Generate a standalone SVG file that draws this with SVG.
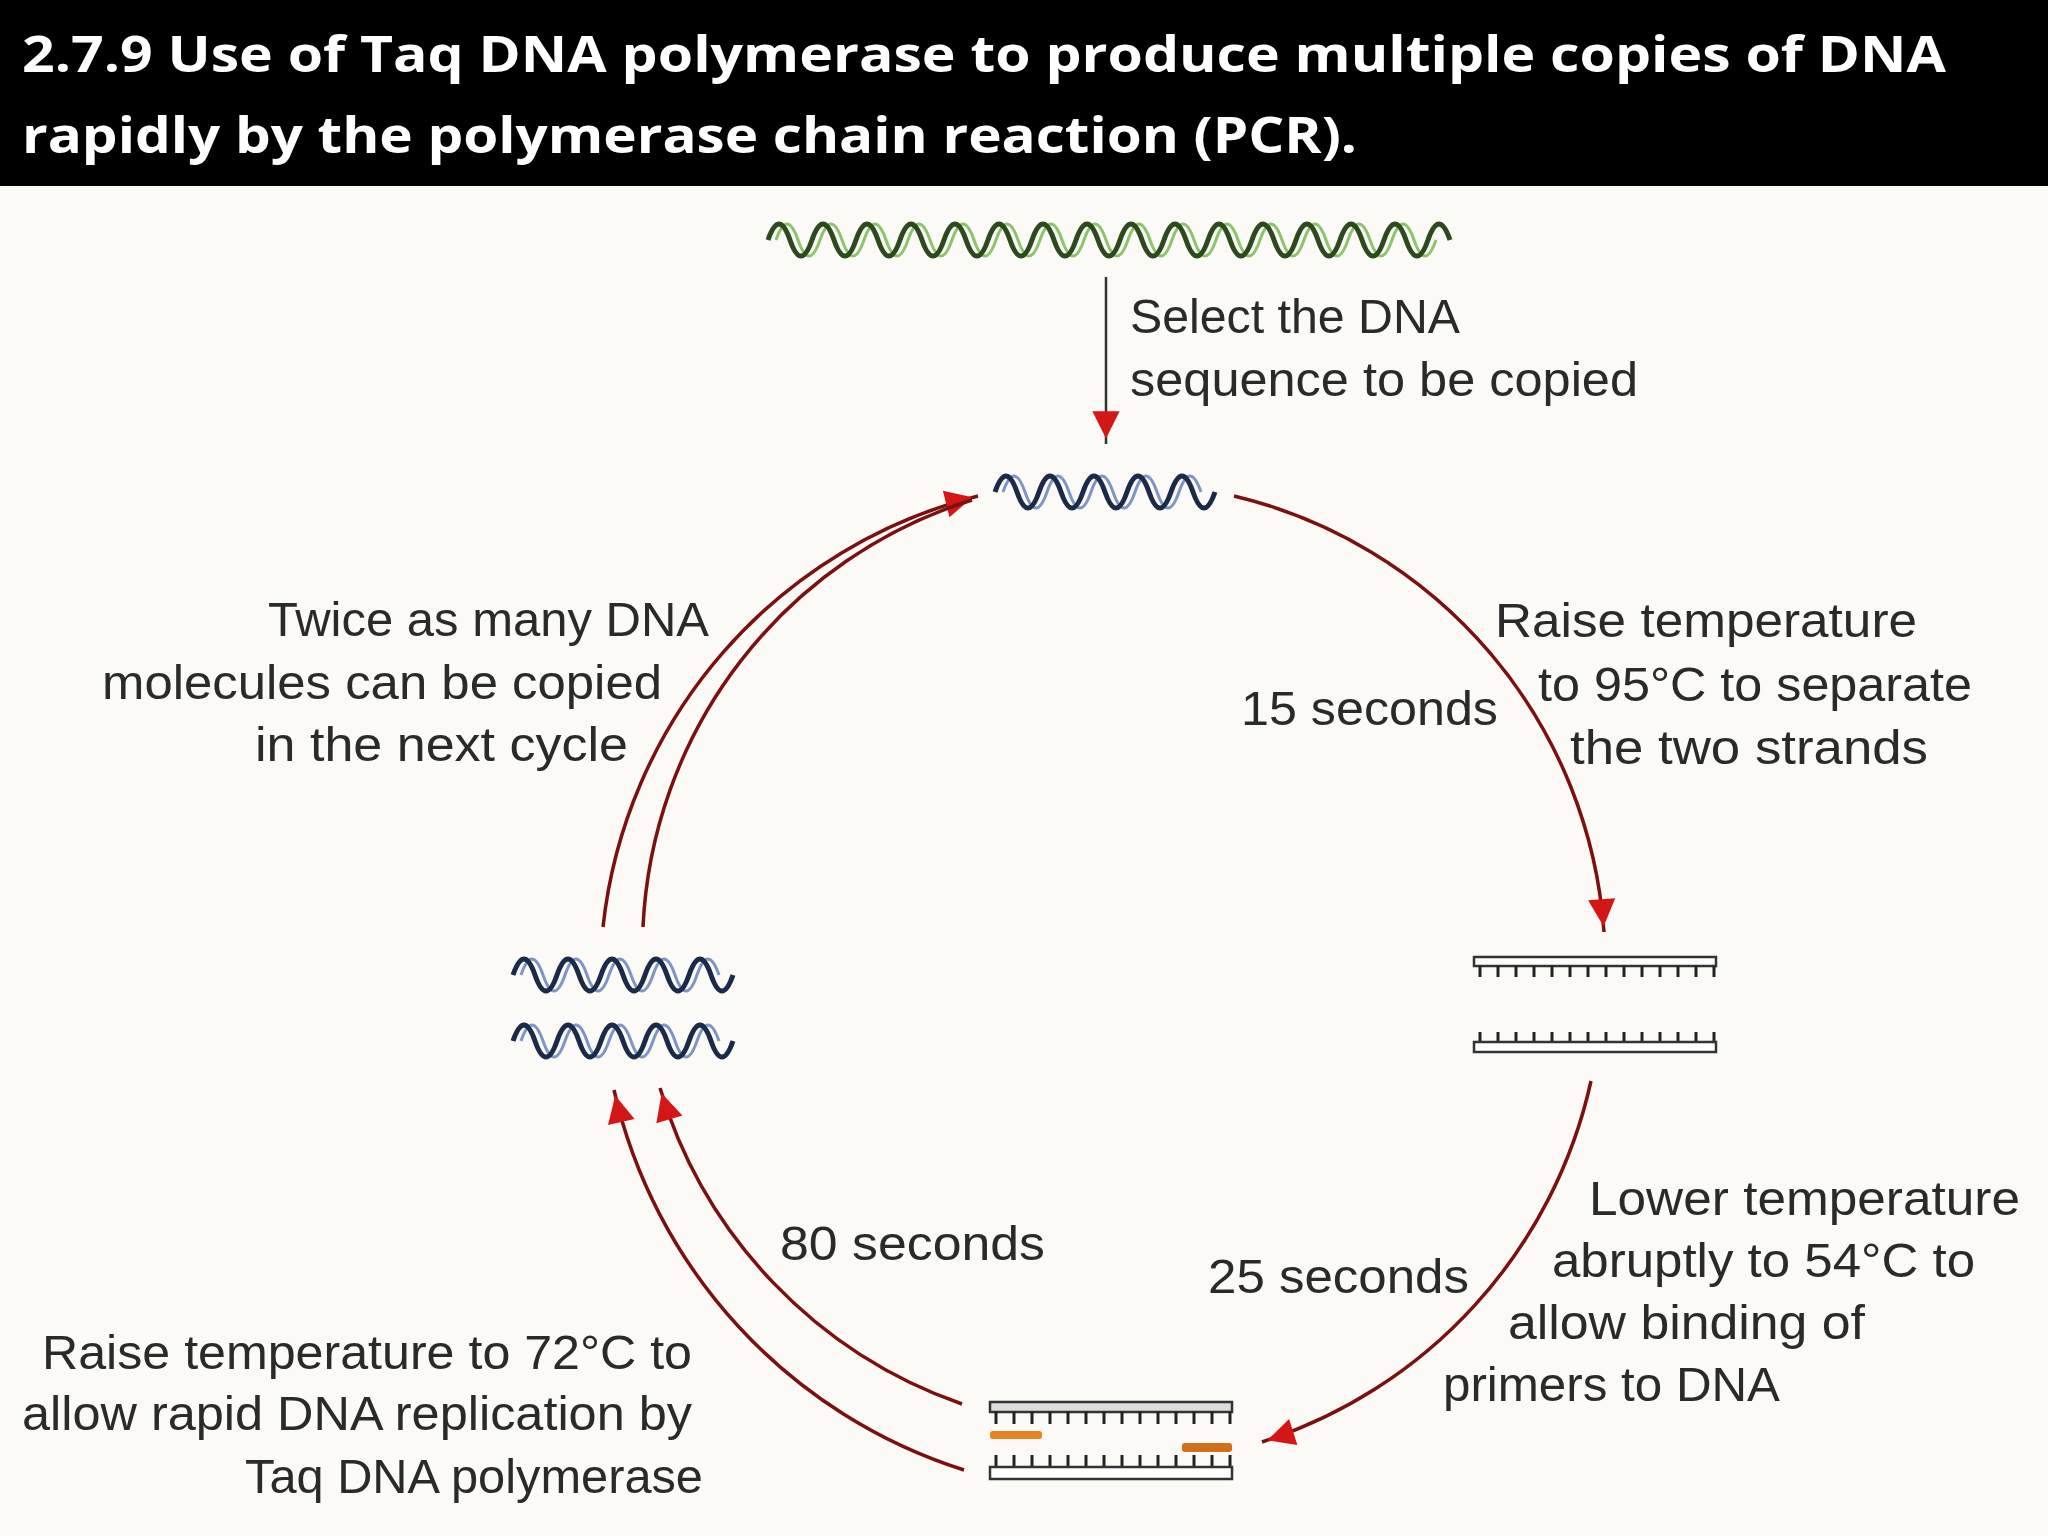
<svg xmlns="http://www.w3.org/2000/svg" width="2048" height="1536" viewBox="0 0 2048 1536">
<defs>
<style>
.t{font-family:"Open Sans","Liberation Sans",sans-serif;font-weight:bold;font-size:50px;fill:#fff}
.l{font-family:"Liberation Sans","DejaVu Sans",sans-serif;font-size:48px;fill:#2a2a2a}
.c{fill:none;stroke:#7a1010;stroke-width:3.5}
.h1{fill:none;stroke:#1c2a4a;stroke-width:5}
.h2{fill:none;stroke:#7f95c4;stroke-width:3}
.g1{fill:none;stroke:#2c4a1e;stroke-width:5}
.g2{fill:none;stroke:#8cc46a;stroke-width:3}
.bar{fill:#fff;stroke:#333;stroke-width:2.5}
.tk{stroke:#222;stroke-width:3}
</style>
<marker id="ah" viewBox="0 0 10 10" refX="9" refY="5" markerWidth="8" markerHeight="8" markerUnits="userSpaceOnUse" orient="auto" style="overflow:visible">
<path d="M0,0 L10,5 L0,10 z" fill="#d41616" transform="translate(2,5) scale(3.4) translate(-10,-5)"/>
</marker>
</defs>
<rect width="2048" height="1536" fill="#fbfaf6"/>
<rect width="2048" height="186" fill="#000"/>
<text class="t" x="22" y="72" textLength="1924" lengthAdjust="spacingAndGlyphs">2.7.9 Use of Taq DNA polymerase to produce multiple copies of DNA</text>
<text class="t" x="22" y="153" textLength="1335" lengthAdjust="spacingAndGlyphs">rapidly by the polymerase chain reaction (PCR).</text>

<g id="dna-top">
<path class="g2" d="M776 240 q11 -32 22 0 t22 0 t22 0 t22 0 t22 0 t22 0 t22 0 t22 0 t22 0 t22 0 t22 0 t22 0 t22 0 t22 0 t22 0 t22 0 t22 0 t22 0 t22 0 t22 0 t22 0 t22 0 t22 0 t22 0 t22 0 t22 0 t22 0 t22 0 t22 0 t22 0"/>
<path class="g1" d="M768 240 q11 -32 22 0 t22 0 t22 0 t22 0 t22 0 t22 0 t22 0 t22 0 t22 0 t22 0 t22 0 t22 0 t22 0 t22 0 t22 0 t22 0 t22 0 t22 0 t22 0 t22 0 t22 0 t22 0 t22 0 t22 0 t22 0 t22 0 t22 0 t22 0 t22 0 t22 0 t22 0"/>
</g>
<g id="dna-cycle-top">
<path class="h2" d="M1003 492 q11 -32 22 0 t22 0 t22 0 t22 0 t22 0 t22 0 t22 0 t22 0 t22 0"/>
<path class="h1" d="M995 492 q11 -32 22 0 t22 0 t22 0 t22 0 t22 0 t22 0 t22 0 t22 0 t22 0 t22 0"/>
</g>
<g id="dna-left">
<path class="h2" d="M521 975 q11 -32 22 0 t22 0 t22 0 t22 0 t22 0 t22 0 t22 0 t22 0 t22 0"/>
<path class="h1" d="M513 975 q11 -32 22 0 t22 0 t22 0 t22 0 t22 0 t22 0 t22 0 t22 0 t22 0 t22 0"/>
<path class="h2" d="M521 1041 q11 -32 22 0 t22 0 t22 0 t22 0 t22 0 t22 0 t22 0 t22 0 t22 0"/>
<path class="h1" d="M513 1041 q11 -32 22 0 t22 0 t22 0 t22 0 t22 0 t22 0 t22 0 t22 0 t22 0 t22 0"/>
</g>
<g id="strands-right">
<rect class="bar" x="1474" y="957" width="242" height="9"/>
<path class="tk" d="M1480 966v11M1498 966v11M1516 966v11M1534 966v11M1552 966v11M1570 966v11M1588 966v11M1606 966v11M1624 966v11M1642 966v11M1660 966v11M1678 966v11M1696 966v11M1714 966v11"/>
<path class="tk" d="M1480 1032v10M1498 1032v10M1516 1032v10M1534 1032v10M1552 1032v10M1570 1032v10M1588 1032v10M1606 1032v10M1624 1032v10M1642 1032v10M1660 1032v10M1678 1032v10M1696 1032v10M1714 1032v10"/>
<rect class="bar" x="1474" y="1042" width="242" height="10"/>
</g>
<g id="strands-bottom">
<rect class="bar" x="990" y="1402" width="242" height="10" style="fill:#ddd"/>
<path class="tk" d="M996 1412v12M1014 1412v12M1032 1412v12M1050 1412v12M1068 1412v12M1086 1412v12M1104 1412v12M1122 1412v12M1140 1412v12M1158 1412v12M1176 1412v12M1194 1412v12M1212 1412v12M1230 1412v12"/>
<rect x="990" y="1431" width="52" height="8" rx="3" fill="#e8821c"/>
<rect x="1182" y="1443" width="50" height="9" rx="3" fill="#d2701a"/>
<path class="tk" d="M996 1455v11M1014 1455v11M1032 1455v11M1050 1455v11M1068 1455v11M1086 1455v11M1104 1455v11M1122 1455v11M1140 1455v11M1158 1455v11M1176 1455v11M1194 1455v11M1212 1455v11M1230 1455v11"/>
<rect class="bar" x="990" y="1467" width="242" height="12"/>
</g>
<g id="connectors">
<path d="M1106 277 V444" stroke="#333" stroke-width="2.5" fill="none" marker-end="url(#ah)"/>
<path class="c" d="M1234 496 A483 483 0 0 1 1604 932" marker-end="url(#ah)"/>
<path class="c" d="M1591 1081 A490 490 0 0 1 1262 1442" marker-end="url(#ah)"/>
<path class="c" d="M962 1404 A480 480 0 0 1 660 1088" marker-end="url(#ah)"/>
<path class="c" d="M964 1470 A520 520 0 0 1 614 1090" marker-end="url(#ah)"/>
<path class="c" d="M603 927 A500 500 0 0 1 978 496" marker-end="url(#ah)"/>
<path class="c" d="M643 927 A470 470 0 0 1 972 500"/>
</g>
<g id="labels">
<text class="l" x="1130" y="333" textLength="330" lengthAdjust="spacingAndGlyphs">Select the DNA</text>
<text class="l" x="1130" y="396" textLength="508" lengthAdjust="spacingAndGlyphs">sequence to be copied</text>
<text class="l" x="1495" y="637" textLength="422" lengthAdjust="spacingAndGlyphs">Raise temperature</text>
<text class="l" x="1538" y="701" textLength="434" lengthAdjust="spacingAndGlyphs">to 95°C to separate</text>
<text class="l" x="1570" y="764" textLength="358" lengthAdjust="spacingAndGlyphs">the two strands</text>
<text class="l" x="1241" y="725" textLength="257" lengthAdjust="spacingAndGlyphs">15 seconds</text>
<text class="l" x="1589" y="1215" textLength="431" lengthAdjust="spacingAndGlyphs">Lower temperature</text>
<text class="l" x="1552" y="1277" textLength="423" lengthAdjust="spacingAndGlyphs">abruptly to 54°C to</text>
<text class="l" x="1508" y="1339" textLength="357" lengthAdjust="spacingAndGlyphs">allow binding of</text>
<text class="l" x="1443" y="1401" textLength="337" lengthAdjust="spacingAndGlyphs">primers to DNA</text>
<text class="l" x="1208" y="1293" textLength="261" lengthAdjust="spacingAndGlyphs">25 seconds</text>
<text class="l" x="780" y="1260" textLength="265" lengthAdjust="spacingAndGlyphs">80 seconds</text>
<text class="l" x="42" y="1369" textLength="650" lengthAdjust="spacingAndGlyphs">Raise temperature to 72°C to</text>
<text class="l" x="22" y="1430" textLength="670" lengthAdjust="spacingAndGlyphs">allow rapid DNA replication by</text>
<text class="l" x="245" y="1493" textLength="458" lengthAdjust="spacingAndGlyphs">Taq DNA polymerase</text>
<text class="l" x="268" y="636" textLength="441" lengthAdjust="spacingAndGlyphs">Twice as many DNA</text>
<text class="l" x="102" y="699" textLength="560" lengthAdjust="spacingAndGlyphs">molecules can be copied</text>
<text class="l" x="255" y="761" textLength="373" lengthAdjust="spacingAndGlyphs">in the next cycle</text>
</g>
</svg>
